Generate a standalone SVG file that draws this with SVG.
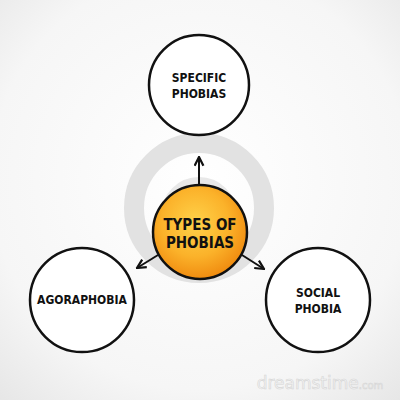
<svg xmlns="http://www.w3.org/2000/svg" width="400" height="400" viewBox="0 0 400 400">
<defs>
<radialGradient id="bg" cx="0.5" cy="0.45" r="0.75">
<stop offset="0" stop-color="#ffffff"/>
<stop offset="0.7" stop-color="#f6f6f6"/>
<stop offset="1" stop-color="#e6e6e6"/>
</radialGradient>
<radialGradient id="orange" cx="0.45" cy="0.4" r="0.6">
<stop offset="0" stop-color="#ffd24a"/>
<stop offset="0.6" stop-color="#fbb22a"/>
<stop offset="1" stop-color="#f08c10"/>
</radialGradient>
<marker id="ah" viewBox="0 0 10 10" refX="9" refY="5" markerWidth="5.5" markerHeight="5.5" orient="auto">
<path d="M1,1 L9,5 L1,9" fill="none" stroke="#111" stroke-width="2"/>
</marker>
<style>
.node{fill:#fff;stroke:#111;stroke-width:2.5}
.lbl{font-family:"DejaVu Sans Condensed","DejaVu Sans",sans-serif;font-weight:bold;font-size:12px;fill:#111;text-anchor:middle}
.conn{stroke:#111;stroke-width:2;fill:none;marker-end:url(#ah)}
</style>
</defs>
<rect width="400" height="400" fill="url(#bg)"/>
<g id="watermark" fill="none" stroke="#e2e2e2">
<circle cx="199" cy="208" r="65" stroke-width="20"/>
<circle cx="199" cy="215" r="32" stroke-width="12" stroke="#e8e8e8"/>
</g>
<g id="connectors">
<line class="conn" x1="199" y1="184" x2="199" y2="157"/>
<line class="conn" x1="158" y1="255" x2="137" y2="268"/>
<line class="conn" x1="242" y1="255" x2="264" y2="269"/>
</g>
<g id="specific">
<circle class="node" cx="199" cy="85" r="50"/>
<text class="lbl" x="199" y="82">SPECIFIC</text>
<text class="lbl" x="199" y="98">PHOBIAS</text>
</g>
<g id="center">
<circle cx="200" cy="232" r="47" fill="url(#orange)" stroke="#111" stroke-width="2.5"/>
<text class="lbl" x="200" y="230" style="font-size:15px">TYPES OF</text>
<text class="lbl" x="200" y="248" style="font-size:15px">PHOBIAS</text>
</g>
<g id="agoraphobia">
<circle class="node" cx="82" cy="300" r="52"/>
<text class="lbl" x="82" y="304">AGORAPHOBIA</text>
</g>
<g id="social">
<circle class="node" cx="318" cy="300" r="52"/>
<text class="lbl" x="318" y="297">SOCIAL</text>
<text class="lbl" x="318" y="313">PHOBIA</text>
</g>
<text x="320" y="389" font-family="'DejaVu Sans',sans-serif" font-size="17" fill="#f3f3f3" stroke="#d6d6d6" stroke-width="0.6" text-anchor="middle">dreamstime<tspan font-size="10">.com</tspan></text>
</svg>
